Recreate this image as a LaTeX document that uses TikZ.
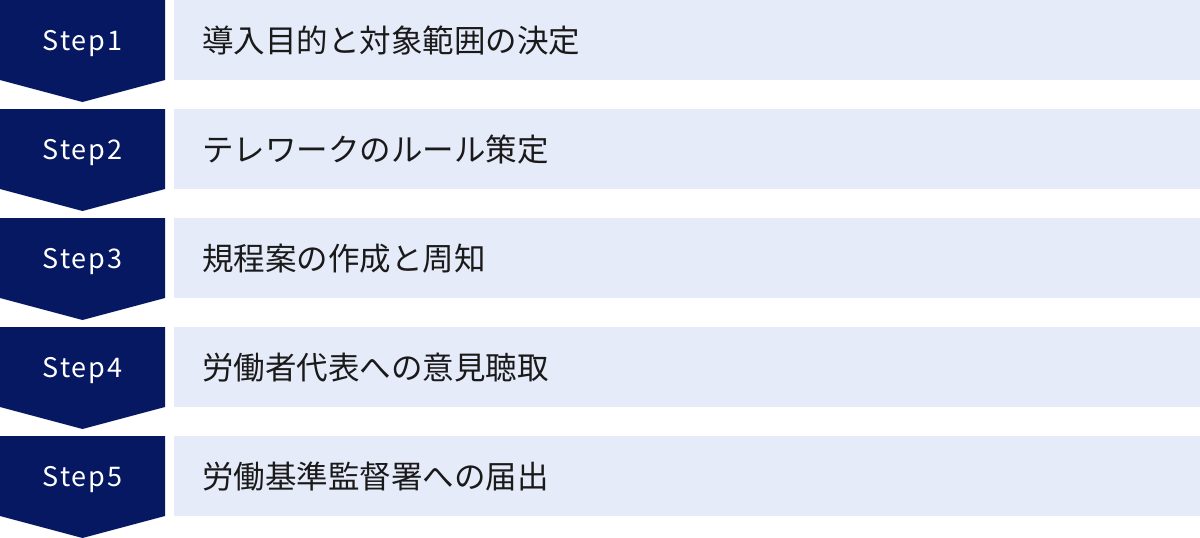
\documentclass[tikz,border=0pt]{standalone}
\usepackage{fontspec}
\setmainfont{Noto Sans CJK JP}
\newfontfamily\stepfont[LetterSpace=7]{Noto Sans CJK JP}
\usetikzlibrary{positioning}
\definecolor{stepnavy}{HTML}{061862}
\definecolor{taskblue}{HTML}{E5EBF9}
\definecolor{taskink}{HTML}{1A1A1A}
\tikzset{
  steplabel/.style={text=white, font=\stepfont\fontsize{27}{27}\selectfont, inner sep=0pt},
  taskbox/.style={fill=taskblue, anchor=north west, minimum height=80pt, text width=970pt,
    inner xsep=28pt, inner ysep=0pt, align=left, text=taskink, font=\fontsize{31.5}{31.5}\selectfont}
}
\begin{document}
\begin{tikzpicture}[x=1pt, y=-1pt]
    \useasboundingbox (0,0) rectangle (1200,538);
    \foreach \n/\txt in {1/導入目的と対象範囲の決定, 2/テレワークのルール策定, 3/規程案の作成と周知,
                         4/労働者代表への意見聴取, 5/労働基準監督署への届出} {
      \pgfmathsetmacro{\top}{(\n-1)*109}
      \fill[stepnavy] (0,\top) -- (165,\top) -- (165,\top+80) -- (82.5,\top+102)
        -- (0,\top+80) -- cycle;
      \node[steplabel] (step\n) at (82.5,\top+43.5) {Step\n};
      \node[taskbox] (task\n) at (174,\top) {\txt};
    };
\end{tikzpicture}
\end{document}
